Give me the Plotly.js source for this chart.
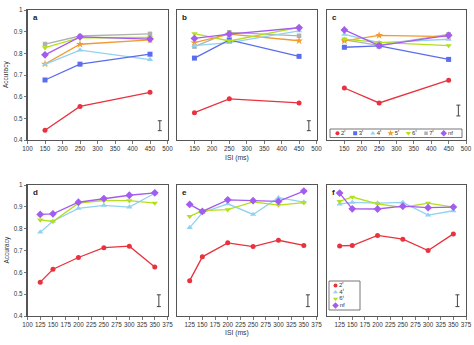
<!DOCTYPE html>
<html><head><meta charset="utf-8">
<script src="https://cdn.plot.ly/plotly-3.0.1.min.js"></script>
<style>html,body{margin:0;padding:0;background:#fff}#chart{width:474px;height:345px}</style>
</head><body><div id="chart"></div>
<script>
// ---------- data ----------
const isiTop = [150, 250, 450];
const isiBottom = [125, 150, 200, 250, 300, 350];

const a2t = [0.445, 0.555, 0.620];
const a3t = [0.677, 0.750, 0.796];
const a4t = [0.749, 0.815, 0.771];
const a5t = [0.751, 0.842, 0.862];
const a6t = [0.826, 0.872, 0.873];
const a7t = [0.843, 0.880, 0.890];
const aNf = [0.793, 0.876, 0.866];

const b2t = [0.526, 0.590, 0.571];
const b3t = [0.778, 0.862, 0.786];
const b4t = [0.836, 0.849, 0.904];
const b5t = [0.849, 0.889, 0.858];
const b6t = [0.891, 0.857, 0.920];
const b7t = [0.831, 0.897, 0.881];
const bNf = [0.869, 0.889, 0.918];

const c2t = [0.640, 0.571, 0.676];
const c3t = [0.828, 0.834, 0.772];
const c4t = [0.888, 0.849, 0.865];
const c5t = [0.858, 0.883, 0.877];
const c6t = [0.866, 0.851, 0.836];
const c7t = [0.862, 0.837, 0.888];
const cNf = [0.908, 0.836, 0.883];

const d2t = [0.555, 0.614, 0.668, 0.713, 0.720, 0.624];
const d4t = [0.784, 0.834, 0.893, 0.907, 0.899, 0.962];
const d6t = [0.840, 0.833, 0.917, 0.929, 0.928, 0.917];
const dNf = [0.865, 0.868, 0.921, 0.938, 0.953, 0.964];

const e2t = [0.562, 0.671, 0.735, 0.718, 0.747, 0.723];
const e4t = [0.805, 0.873, 0.914, 0.865, 0.942, 0.922];
const e6t = [0.856, 0.883, 0.887, 0.923, 0.908, 0.919];
const eNf = [0.911, 0.879, 0.932, 0.928, 0.925, 0.972];

const f2t = [0.721, 0.723, 0.769, 0.752, 0.700, 0.776];
const f4t = [0.913, 0.920, 0.917, 0.920, 0.862, 0.882];
const f6t = [0.925, 0.945, 0.914, 0.897, 0.917, 0.899];
const fNf = [0.963, 0.891, 0.890, 0.903, 0.896, 0.899];

const seriesLabels = ['2<sup>t</sup>', '3<sup>t</sup>', '4<sup>t</sup>', '5<sup>t</sup>', '6<sup>t</sup>', '7<sup>t</sup>', 'nf'];
const panelLetters = ['a', 'b', 'c', 'd', 'e', 'f'];
const topTicks = [100, 150, 200, 250, 300, 350, 400, 450, 500];
const bottomTicks = [100, 125, 150, 175, 200, 225, 250, 275, 300, 325, 350, 375];

// scale bars (error size indicators)
const scaleBarX = [478, 478, 478, 358, 358, 358];
const scaleBarY = [0.466, 0.466, 0.536, 0.470, 0.470, 0.470];
const scaleBarHalf = [0.023, 0.023, 0.025, 0.027, 0.027, 0.027];

// ---------- styles ----------
const FONT = 'Liberation Sans, Arial, sans-serif';
const styles = {
  '2t': {color: '#e8333f', symbol: 'circle', size: 5},
  '3t': {color: '#5b6cee', symbol: 'square', size: 5},
  '4t': {color: '#92d2f0', symbol: 'triangle-up', size: 5.5},
  '5t': {color: '#f09a30', symbol: 'star', size: 6},
  '6t': {color: '#b3df1c', symbol: 'triangle-down', size: 5.5},
  '7t': {color: '#b0b0b0', symbol: 'square', size: 4.5},
  'nf': {color: '#a45cf0', symbol: 'diamond', size: 6}
};
const keys = ['2t', '3t', '4t', '5t', '6t', '7t', 'nf'];

const panels = [
  {ax: '', x: isiTop, series: {'2t': a2t, '3t': a3t, '4t': a4t, '5t': a5t, '6t': a6t, '7t': a7t, 'nf': aNf}},
  {ax: '2', x: isiTop, series: {'2t': b2t, '3t': b3t, '4t': b4t, '5t': b5t, '6t': b6t, '7t': b7t, 'nf': bNf}},
  {ax: '3', x: isiTop, series: {'2t': c2t, '3t': c3t, '4t': c4t, '5t': c5t, '6t': c6t, '7t': c7t, 'nf': cNf}},
  {ax: '4', x: isiBottom, series: {'2t': d2t, '4t': d4t, '6t': d6t, 'nf': dNf}},
  {ax: '5', x: isiBottom, series: {'2t': e2t, '4t': e4t, '6t': e6t, 'nf': eNf}},
  {ax: '6', x: isiBottom, series: {'2t': f2t, '4t': f4t, '6t': f6t, 'nf': fNf}}
];

const traces = [];
const drawOrder = ['7t', '5t', '4t', '3t', '6t', 'nf', '2t'];
panels.forEach((p, pi) => {
  drawOrder.forEach(k => {
    if (!p.series[k]) return;
    const s = styles[k];
    traces.push({
      type: 'scatter', mode: 'lines+markers',
      x: p.x, y: p.series[k],
      xaxis: 'x' + p.ax, yaxis: 'y' + p.ax,
      line: {color: s.color, width: 1.3},
      marker: {color: s.color, symbol: s.symbol, size: s.size, line: {width: 0}},
      showlegend: false, hoverinfo: 'skip', cliponaxis: false
    });
  });
  traces.push({
    type: 'scatter', mode: 'markers',
    x: [scaleBarX[pi]], y: [scaleBarY[pi]],
    xaxis: 'x' + p.ax, yaxis: 'y' + p.ax,
    marker: {size: 1, color: 'rgba(0,0,0,0)'},
    error_y: {type: 'constant', value: scaleBarHalf[pi], color: '#444', thickness: 1, width: 2},
    showlegend: false, hoverinfo: 'skip', cliponaxis: false
  });
});

// horizontal legend (panel c)
keys.forEach((k, i) => {
  const s = styles[k];
  traces.push({
    type: 'scatter', mode: 'markers+text',
    x: [0.42 + i], y: [0], text: [seriesLabels[i]],
    textposition: 'middle right',
    textfont: {family: FONT, size: 6, color: '#333'},
    xaxis: 'x7', yaxis: 'y7',
    marker: {color: s.color, symbol: s.symbol, size: s.size - 1, line: {width: 0}},
    showlegend: false, hoverinfo: 'skip', cliponaxis: false
  });
});
// vertical legend (panel f)
['2t', '4t', '6t', 'nf'].forEach((k, i) => {
  const s = styles[k];
  traces.push({
    type: 'scatter', mode: 'markers+text',
    x: [6.5], y: [4.5 + i * 6.7], text: [seriesLabels[keys.indexOf(k)]],
    textposition: 'middle right',
    textfont: {family: FONT, size: 6, color: '#333'},
    xaxis: 'x8', yaxis: 'y8',
    marker: {color: s.color, symbol: s.symbol, size: s.size - 1, line: {width: 0}},
    showlegend: false, hoverinfo: 'skip', cliponaxis: false
  });
});

// ---------- layout ----------
const W = 474, H = 345;
const colDom = [[27.5 / W, 167.5 / W], [177 / W, 316.5 / W], [327 / W, 466 / W]];
const rowDom = [[(H - 140) / H, (H - 10) / H], [(H - 316) / H, (H - 185) / H]];

function xAx(col, row, n) {
  const ticks = row === 0 ? topTicks : bottomTicks;
  const tv = col === 0 ? ticks : ticks.slice(1);
  return {
    anchor: 'y' + n,
    domain: colDom[col], range: row === 0 ? [100, 500] : [100, 375],
    tickmode: 'array', tickvals: tv, ticktext: tv.map(String), tickangle: 0,
    showline: true, mirror: true, linecolor: '#555', linewidth: 1.3,
    ticks: 'outside', ticklen: 2.5, tickwidth: 0.8, tickcolor: '#555',
    tickfont: {family: FONT, size: 6.3, color: '#333'},
    showgrid: false, zeroline: false, fixedrange: true, automargin: false
  };
}
function yAx(col, row, n) {
  return {
    anchor: 'x' + n,
    domain: rowDom[row], range: [0.4, 1],
    tickmode: 'array',
    tickvals: [0.4, 0.5, 0.6, 0.7, 0.8, 0.9, 1],
    ticktext: ['0.4', '0.5', '0.6', '0.7', '0.8', '0.9', '1'],
    showticklabels: col === 0, ticks: col === 0 ? 'outside' : '',
    ticklen: 2.5, tickwidth: 0.8, tickcolor: '#555',
    showline: true, mirror: true, linecolor: '#555', linewidth: 1.3,
    tickfont: {family: FONT, size: 6.3, color: '#333'},
    showgrid: false, zeroline: false, fixedrange: true, automargin: false
  };
}

const layout = {
  width: W, height: H, margin: {l: 0, r: 0, t: 0, b: 0},
  paper_bgcolor: '#fff', plot_bgcolor: '#fff', showlegend: false,
  font: {family: FONT, color: '#333'},
  xaxis: xAx(0, 0, ''), yaxis: yAx(0, 0, ''),
  xaxis2: xAx(1, 0, '2'), yaxis2: yAx(1, 0, '2'),
  xaxis3: xAx(2, 0, '3'), yaxis3: yAx(2, 0, '3'),
  xaxis4: xAx(0, 1, '4'), yaxis4: yAx(0, 1, '4'),
  xaxis5: xAx(1, 1, '5'), yaxis5: yAx(1, 1, '5'),
  xaxis6: xAx(2, 1, '6'), yaxis6: yAx(2, 1, '6'),
  xaxis7: {anchor: 'y7', domain: [330 / W, 462 / W], range: [0, 7.45], visible: false, fixedrange: true},
  yaxis7: {anchor: 'x7', domain: [(H - 137.5) / H, (H - 129) / H], range: [-1, 1], visible: false, fixedrange: true},
  xaxis8: {anchor: 'y8', domain: [329 / W, 360 / W], range: [0, 31], visible: false, fixedrange: true},
  yaxis8: {anchor: 'x8', domain: [(H - 310) / H, (H - 281) / H], range: [29, 0], visible: false, fixedrange: true},
  shapes: [
    {type: 'rect', xref: 'paper', yref: 'paper', x0: 330 / W, x1: 462 / W, y0: (H - 137.5) / H, y1: (H - 129) / H,
     line: {color: '#666', width: 0.9}, fillcolor: 'rgba(0,0,0,0)'},
    {type: 'rect', xref: 'paper', yref: 'paper', x0: 329 / W, x1: 360 / W, y0: (H - 310) / H, y1: (H - 281) / H,
     line: {color: '#666', width: 0.9}, fillcolor: 'rgba(0,0,0,0)'}
  ],
  annotations: []
};

panelLetters.forEach((L, i) => {
  const col = i % 3, row = Math.floor(i / 3);
  layout.annotations.push({
    text: '<b>' + L + '</b>', xref: 'paper', yref: 'paper',
    x: colDom[col][0] + 3 / W, y: rowDom[row][1] - 1 / H,
    xanchor: 'left', yanchor: 'top', showarrow: false,
    font: {family: FONT, size: 8, color: '#222'}
  });
});
[0, 1].forEach(row => {
  layout.annotations.push({
    text: 'Accuracy', xref: 'paper', yref: 'paper', textangle: -90,
    x: 6 / W, y: (rowDom[row][0] + rowDom[row][1]) / 2,
    xanchor: 'center', yanchor: 'middle', showarrow: false,
    font: {family: FONT, size: 6.5, color: '#333'}
  });
});
layout.annotations.push({
  text: 'ISI (ms)', xref: 'paper', yref: 'paper', x: 0.5, y: (H - 158) / H,
  xanchor: 'center', yanchor: 'middle', showarrow: false, font: {family: FONT, size: 6.8, color: '#333'}
});
layout.annotations.push({
  text: 'ISI (ms)', xref: 'paper', yref: 'paper', x: 0.5, y: (H - 333) / H,
  xanchor: 'center', yanchor: 'middle', showarrow: false, font: {family: FONT, size: 6.8, color: '#333'}
});

Plotly.newPlot('chart', traces, layout, {staticPlot: true, displayModeBar: false});
</script></body></html>
